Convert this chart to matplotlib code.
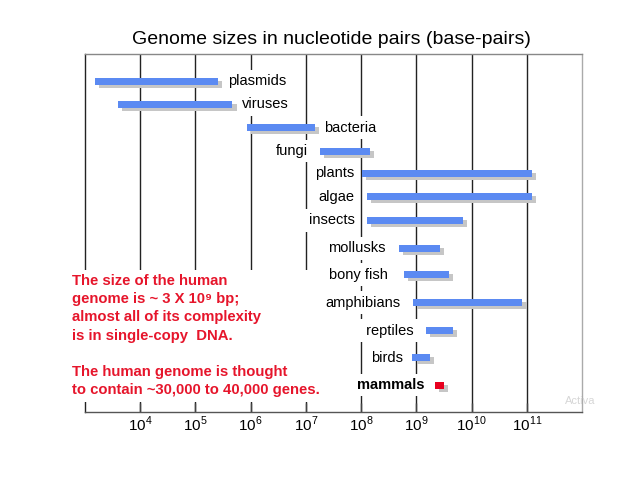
import matplotlib
matplotlib.use("Agg")
import matplotlib.pyplot as plt
import matplotlib.patheffects as pe
import numpy as np

plt.rcParams['font.family'] = ['Liberation Sans', 'DejaVu Sans']
plt.rcParams['mathtext.fontset'] = 'custom'
plt.rcParams['mathtext.rm'] = 'Liberation Sans'

# genome size ranges, log10 of base pairs
groups = ["plasmids", "viruses", "bacteria", "fungi", "plants", "algae", "insects",
          "mollusks", "bony fish", "amphibians", "reptiles", "birds", "mammals"]
low_exp = [3.18, 3.59, 5.93, 7.26, 8.02, 8.10, 8.10, 8.68, 8.77, 8.94, 9.18, 8.93, 9.34]
high_exp = [5.41, 5.67, 7.17, 8.16, 11.09, 11.09, 9.84, 9.42, 9.59, 10.92, 9.67, 9.25, 9.50]
tick_exp = [4, 5, 6, 7, 8, 9, 10, 11]

# layout (pixel rows, which side the label goes, gap to bar)
row_y = [81.5, 104.5, 127.5, 151, 173.5, 196.5, 220.5, 248.5, 274.5, 302.5, 330.5, 357.5, 385]
label_side = ["r", "r", "r", "l", "l", "l", "l", "l", "l", "l", "l", "l", "l"]
label_gap = [10, 10, 9, 12, 8, 12, 12, 13, 16, 13, 13, 9, 11]

W, H = 638, 478
fig = plt.figure(figsize=(W / 100, H / 100), dpi=100)
ax = fig.add_axes([85 / W, (H - 412) / H, 497 / W, 358 / H])
ax.set_xscale('log')
ax.set_xlim(1e3, 1e12)
ax.set_ylim(412, 54)

lo = 10 ** np.array(low_exp)
hi = 10 ** np.array(high_exp)
colors = ['#5b8af2'] * (len(groups) - 1) + ['#e8001f']
shadow = [pe.SimplePatchShadow(offset=(3.0, -2.2), shadow_rgbFace='#c6c6c6', alpha=1.0), pe.Normal()]
bars = ax.barh(row_y, hi - lo, left=lo, height=7, color=colors, zorder=2)
for b in bars:
    b.set_path_effects(shadow)

# labels with white boxes that hide the grid lines
for i, g in enumerate(groups):
    if label_side[i] == "r":
        xy, dx, ha = (hi[i], row_y[i]), label_gap[i], 'left'
    else:
        xy, dx, ha = (lo[i], row_y[i]), -label_gap[i], 'right'
    txt = g
    if g == "reptiles":
        txt = "         " + g
    ax.annotate(txt, xy=xy, xytext=(dx, 0), textcoords='offset pixels',
                ha=ha, va='center', fontsize=10.5,
                fontweight='bold' if g == "mammals" else 'normal',
                bbox=dict(boxstyle='square,pad=0.3', fc='white', ec='none'), zorder=4)

ax.set_xticks([10.0 ** k for k in tick_exp])
ax.set_xticklabels([r'$10^{%d}$' % k for k in tick_exp], fontsize=11)
ax.minorticks_off()
ax.set_yticks([])
ax.tick_params(axis='x', direction='in', length=6.5, width=1, color='#444444', pad=2)
ax.grid(axis='x', color='#222222', lw=1)
ax.set_axisbelow(True)

ax.spines['left'].set_color('#222222')
ax.spines['bottom'].set_color('#555555')
ax.spines['top'].set_color('#888888')
ax.spines['right'].set_color('#aaaaaa')
for s in ax.spines.values():
    s.set_linewidth(1)

fig.text(331 / W, 1 - 40 / H, "Genome sizes in nucleotide pairs (base-pairs)",
         ha='center', va='center', fontsize=14)

note = ("The size of the human\n"
        "genome is ~ 3 X 10\u2079 bp;\n"
        "almost all of its complexity\n"
        "is in single-copy  DNA.\n"
        "\n"
        "The human genome is thought\n"
        "to contain ~30,000 to 40,000 genes.")
ax.text(72 / W, 1 - 274 / H, note, transform=fig.transFigure, clip_on=False,
        ha='left', va='top', color='#e6152b',
        fontsize=10.7, fontweight='bold', linespacing=1.38, zorder=3,
        bbox=dict(boxstyle='square,pad=0.3', fc='white', ec='none'))

fig.text(565 / W, 1 - 401 / H, "Activa", fontsize=8, color='#d6d6d6', va='center')

plt.savefig("out.png", dpi=100)
